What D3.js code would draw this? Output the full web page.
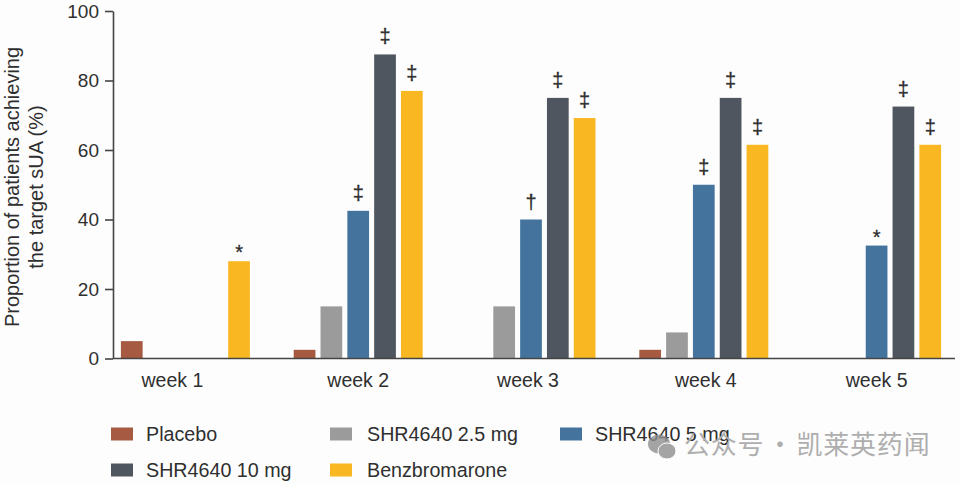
<!DOCTYPE html>
<html>
<head>
<meta charset="utf-8">
<script src="https://cdn.jsdelivr.net/npm/d3@7"></script>
<style>
  html, body { margin: 0; padding: 0; background: #fdfdfd; }
  svg { display: block; font-family: "Liberation Sans", Arial, sans-serif; }
</style>
</head>
<body>
<svg id="chart" width="960" height="484"></svg>
<script>
const weeks = ['week 1', 'week 2', 'week 3', 'week 4', 'week 5'];
const seriesNames = ['Placebo', 'SHR4640 2.5 mg', 'SHR4640 5 mg', 'SHR4640 10 mg', 'Benzbromarone'];
const seriesColors = ['#a65a42', '#9b9b9b', '#44749d', '#50565f', '#f9b822'];

const placebo = [5, 2.5, 0, 2.5, 0];
const shr25 = [0, 15, 15, 7.5, 0];
const shr5 = [0, 42.5, 40, 50, 32.5];
const shr10 = [0, 87.5, 75, 75, 72.5];
const benzbromarone = [28, 77, 69.2, 61.5, 61.5];

const placeboMarks = ['', '', '', '', ''];
const shr25Marks = ['', '', '', '', ''];
const shr5Marks = ['', '‡', '†', '‡', '*'];
const shr10Marks = ['', '‡', '‡', '‡', '‡'];
const benzMarks = ['*', '‡', '‡', '‡', '‡'];

const yTicks = [0, 20, 40, 60, 80, 100];
const yTitle = ['Proportion of patients achieving', 'the target sUA (%)'];
const watermark = '公众号 · 凯莱英药闻';

const allValues = [placebo, shr25, shr5, shr10, benzbromarone];
const allMarks = [placeboMarks, shr25Marks, shr5Marks, shr10Marks, benzMarks];

const svg = d3.select('#chart');
const textColor = '#2f2f2f';
const axisColor = '#444';

const x = d3.scaleBand().domain(weeks).range([99, 963]);
const inner = d3.scaleBand().domain(seriesNames)
  .range([x.bandwidth() / 2 - 64.5, x.bandwidth() / 2 + 64.5])
  .paddingInner(0.19);
const y = d3.scaleLinear().domain([0, 100]).range([358.5, 11]);

// bars
const groups = svg.append('g')
  .selectAll('g')
  .data(seriesNames)
  .join('g')
  .attr('fill', (d, i) => seriesColors[i]);

groups.selectAll('rect')
  .data((d, i) => weeks.map((w, j) => ({ w, s: d, v: allValues[i][j], m: allMarks[i][j] })))
  .join('rect')
  .attr('x', d => x(d.w) + inner(d.s))
  .attr('y', d => y(d.v))
  .attr('width', inner.bandwidth())
  .attr('height', d => y(0) - y(d.v));

// significance marks above the bars
groups.selectAll('text')
  .data((d, i) => weeks.map((w, j) => ({ w, s: d, v: allValues[i][j], m: allMarks[i][j] })).filter(d => d.m))
  .join('text')
  .attr('x', d => x(d.w) + inner(d.s) + inner.bandwidth() / 2)
  .attr('y', d => y(d.v) - (d.m === '*' ? 2 : 11))
  .attr('text-anchor', 'middle')
  .attr('font-size', 20)
  .attr('fill', '#2c2c2c')
  .attr('stroke', '#2c2c2c')
  .attr('stroke-width', 0.3)
  .text(d => d.m);

// y axis
const yAxis = svg.append('g')
  .attr('transform', 'translate(113,0)')
  .call(d3.axisLeft(y).tickValues(yTicks).tickSize(8).tickSizeOuter(0).tickPadding(6));
yAxis.selectAll('path, line').attr('stroke', axisColor).attr('stroke-width', 1.6);
yAxis.selectAll('text').attr('font-size', 19).attr('font-family', null).attr('fill', textColor);

// x axis, labels are not quite centred under the groups in the original
const labelShift = { 'week 1': -13, 'week 2': 0, 'week 3': -3, 'week 4': 2, 'week 5': 0 };
const xAxis = svg.append('g')
  .attr('transform', 'translate(0,358.5)')
  .call(d3.axisBottom(x).tickSize(0).tickPadding(15));
xAxis.select('.domain').remove();
xAxis.selectAll('text')
  .attr('font-size', 19.5)
  .attr('font-family', null)
  .attr('fill', textColor)
  .attr('dx', d => labelShift[d]);
svg.append('line')
  .attr('x1', 113).attr('x2', 955)
  .attr('y1', y(0)).attr('y2', y(0))
  .attr('stroke', axisColor).attr('stroke-width', 1.6);

// y title
svg.append('text')
  .attr('transform', 'translate(19,187) rotate(-90)')
  .attr('text-anchor', 'middle')
  .attr('font-size', 20)
  .attr('fill', textColor)
  .selectAll('tspan')
  .data(yTitle)
  .join('tspan')
  .attr('x', 0)
  .attr('dy', (d, i) => i ? 24 : 0)
  .text(d => d);

// legend
const legendX = [111, 330, 560, 111, 330];
const legendY = [434, 434, 434, 470, 470];
const legend = svg.append('g')
  .selectAll('g')
  .data(seriesNames)
  .join('g')
  .attr('transform', (d, i) => `translate(${legendX[i]},${legendY[i]})`);
legend.append('rect')
  .attr('y', -6.5).attr('width', 22).attr('height', 13)
  .attr('fill', (d, i) => seriesColors[i]);
legend.append('text')
  .attr('x', (d, i) => (i % 3 === 0 ? 35 : i === 2 ? 35 : 37))
  .attr('dy', '0.35em')
  .attr('font-size', 19.7)
  .attr('fill', textColor)
  .text(d => d);

// watermark
const mark = svg.append('g').attr('fill', '#8f8f8f').attr('opacity', 0.8);
mark.append('ellipse').attr('cx', 659).attr('cy', 444).attr('rx', 11).attr('ry', 9.5);
mark.append('ellipse').attr('cx', 667).attr('cy', 451).attr('rx', 9).attr('ry', 8).attr('stroke', '#fdfdfd');
svg.append('text')
  .attr('x', 684).attr('y', 454)
  .attr('font-family', '"Noto Sans CJK SC"')
  .attr('font-size', 26)
  .attr('letter-spacing', 0.8)
  .attr('word-spacing', -4)
  .attr('fill', '#aeaeae')
  .text(watermark);
</script>
</body>
</html>
